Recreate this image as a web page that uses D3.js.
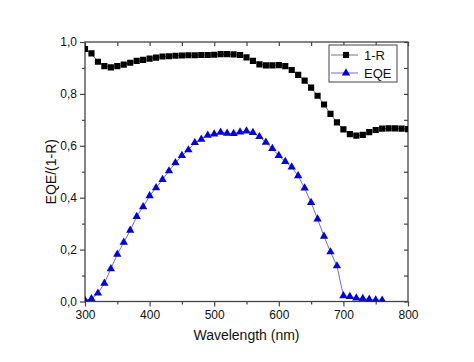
<!DOCTYPE html>
<meta charset='utf-8'>
<title>EQE / (1-R)</title>
<style>
  body { margin: 0; background: #fff; }
  svg { display: block; font-family: Arial, 'Liberation Sans', sans-serif; }
  .frame { fill: none; stroke: #444; stroke-width: 1.3px; }
  .tick line { stroke: #444; stroke-width: 1.2px; }
  .tick text { fill: #111; font-size: 12px; }
</style>
<body>
<script src='https://cdn.jsdelivr.net/npm/d3@7'></script>
<script>

  // wavelengths (nm), one reading every 10 nm
  var wlR = d3.range(300, 801, 10)
  var oneMinusR = [0.973, 0.956, 0.924, 0.907, 0.902, 0.907, 0.913, 0.920, 0.927, 0.931,
    0.936, 0.940, 0.944, 0.945, 0.947, 0.948, 0.949, 0.949, 0.950, 0.950,
    0.951, 0.953, 0.953, 0.952, 0.950, 0.941, 0.927, 0.914, 0.910, 0.910,
    0.911, 0.907, 0.892, 0.873, 0.851, 0.824, 0.793, 0.759, 0.723, 0.690,
    0.663, 0.645, 0.639, 0.642, 0.653, 0.661, 0.666, 0.667, 0.667, 0.666, 0.664]

  var wlE = d3.range(300, 761, 10)
  var eqe = [0.005, 0.010, 0.032, 0.070, 0.126, 0.182, 0.228, 0.274, 0.327, 0.365,
    0.407, 0.438, 0.470, 0.503, 0.534, 0.562, 0.584, 0.612, 0.625, 0.640,
    0.645, 0.652, 0.648, 0.647, 0.653, 0.657, 0.651, 0.635, 0.613, 0.589,
    0.562, 0.539, 0.518, 0.484, 0.437, 0.381, 0.318, 0.251, 0.191, 0.137,
    0.022, 0.019, 0.013, 0.011, 0.008, 0.006, 0.005]

  var xTicks = [300, 400, 500, 600, 700, 800]
  var yTicks = [0, 0.2, 0.4, 0.6, 0.8, 1.0]

  var width = 474, height = 362
  var margin = {top: 42, right: 66, bottom: 60.5, left: 85}
  var w = width - margin.left - margin.right
  var h = height - margin.top - margin.bottom

  var svg = d3.select('body').append('svg')
    .attr('width', width).attr('height', height)

  var g = svg.append('g')
    .attr('transform', 'translate(' + margin.left + ',' + margin.top + ')')

  var x = d3.scaleLinear().domain([300, 800]).range([0, w])
  var y = d3.scaleLinear().domain([0, 1]).range([h, 0])

  var fmt = function(d) { return d3.format('.1f')(d).replace('.', ',') }
  var minorX = d3.range(350, 800, 100)
  var minorY = d3.range(0.1, 1, 0.2)

  g.append('defs').append('clipPath').attr('id', 'clip')
    .append('rect').attr('width', w).attr('height', h)

  /* ------- AXES -------*/
  g.append('g').attr('transform', 'translate(0,' + h + ')')
    .call(d3.axisBottom(x).tickValues(xTicks).tickSize(5).tickPadding(4).tickFormat(d3.format('d')))
  g.append('g').attr('transform', 'translate(0,' + h + ')')
    .call(d3.axisBottom(x).tickValues(minorX).tickSize(3).tickFormat(''))
  g.append('g')
    .call(d3.axisLeft(y).tickValues(yTicks).tickSize(5).tickPadding(3).tickFormat(fmt))
  g.append('g')
    .call(d3.axisLeft(y).tickValues(minorY).tickSize(3).tickFormat(''))
  // mirrored ticks, pointing inward
  g.append('g')
    .call(d3.axisTop(x).tickValues(xTicks.concat(minorX)).tickSize(-4).tickFormat(''))
  g.append('g').attr('transform', 'translate(' + w + ',0)')
    .call(d3.axisRight(y).tickValues(yTicks.concat(minorY)).tickSize(-4).tickFormat(''))
  g.selectAll('.domain').remove()

  g.append('rect').attr('class', 'frame').attr('width', w).attr('height', h)

  /* ------- SERIES -------*/
  var plot = g.append('g').attr('clip-path', 'url(#clip)')

  var line = d3.line().x(function(d) { return x(d[0]) }).y(function(d) { return y(d[1]) })
  var rData = d3.zip(wlR, oneMinusR)
  var eData = d3.zip(wlE, eqe)

  plot.append('path').datum(rData).attr('d', line)
    .attr('fill', 'none').attr('stroke', '#777').attr('stroke-width', 1)
  plot.append('path').datum(eData).attr('d', line)
    .attr('fill', 'none').attr('stroke', '#6a6ae8').attr('stroke-width', 1)

  var square = d3.symbol().type(d3.symbolSquare).size(38)
  var tri = d3.symbol().type(d3.symbolTriangle).size(30)

  plot.selectAll('path.sq').data(rData).enter().append('path')
    .attr('class', 'sq').attr('d', square).attr('fill', '#000')
    .attr('transform', function(d) { return 'translate(' + x(d[0]) + ',' + y(d[1]) + ')' })
  plot.selectAll('path.tri').data(eData).enter().append('path')
    .attr('class', 'tri').attr('d', tri).attr('fill', '#0000e0')
    .attr('transform', function(d) { return 'translate(' + x(d[0]) + ',' + y(d[1]) + ')' })

  /* ------- TITLES -------*/
  svg.append('text').attr('x', margin.left + w / 2).attr('y', 340)
    .attr('text-anchor', 'middle').style('font-size', '14px').attr('fill', '#111')
    .text('Wavelength (nm)')
  svg.append('text').attr('transform', 'translate(56,' + (margin.top + h / 2) + ') rotate(-90)')
    .attr('text-anchor', 'middle').style('font-size', '14px').attr('fill', '#111')
    .text('EQE/(1-R)')

  /* ------- LEGEND -------*/
  var lg = svg.append('g').attr('transform', 'translate(329,45)')
  lg.append('rect').attr('width', 68).attr('height', 37)
    .attr('fill', '#fff').attr('stroke', '#444').attr('stroke-width', 1)
  var items = [
    {label: '1-R', stroke: '#777', fill: '#000', sym: square},
    {label: 'EQE', stroke: '#6a6ae8', fill: '#0000e0', sym: tri}
  ]
  items.forEach(function(it, i) {
    var yy = 10 + i * 18
    lg.append('line').attr('x1', 2).attr('x2', 29).attr('y1', yy).attr('y2', yy)
      .attr('stroke', it.stroke).attr('stroke-width', 1)
    lg.append('path').attr('d', it.sym).attr('fill', it.fill)
      .attr('transform', 'translate(17,' + yy + ')')
    lg.append('text').attr('x', 35).attr('y', yy + 5)
      .style('font-size', '13px').attr('fill', '#111').text(it.label)
  })

</script>
</body>
